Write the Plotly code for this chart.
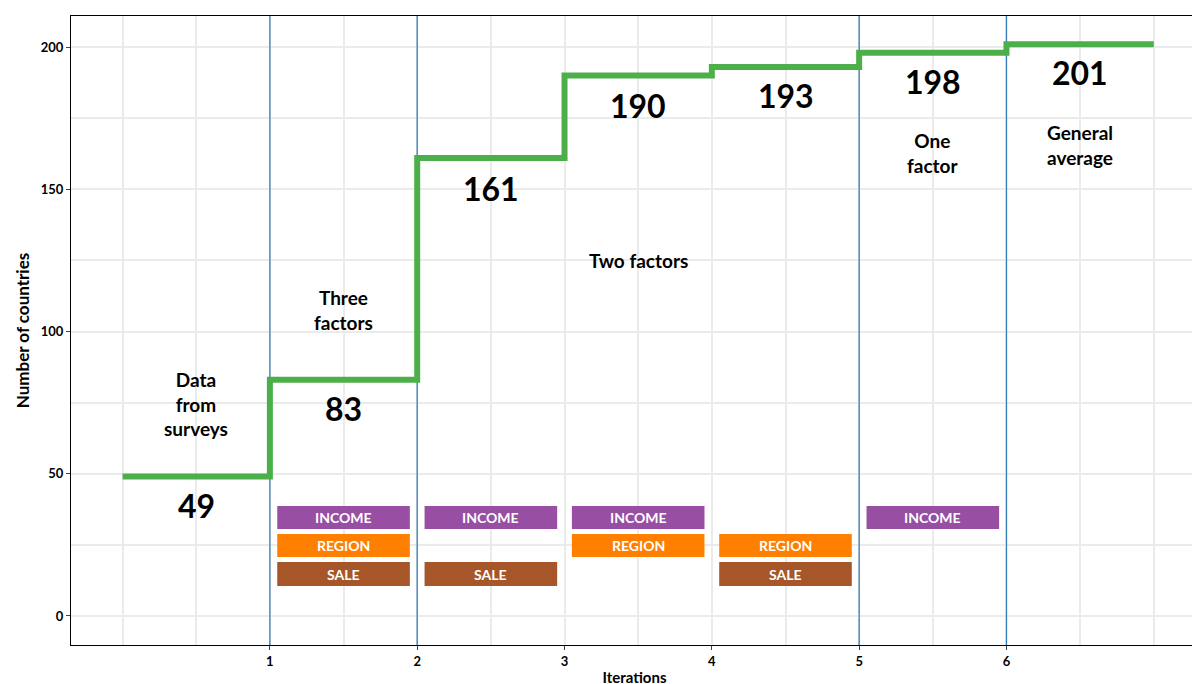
import plotly.graph_objects as go

steps_x = [0, 1, 2, 3, 4, 5, 6, 7]
steps_y = [49, 83, 161, 190, 193, 198, 201, 201]
counts = [49, 83, 161, 190, 193, 198, 201]
count_y = [39, 72.8, 150.4, 179.6, 182.8, 188, 191]
desc = ["Data<br>from<br>surveys", "Three<br>factors", "", "Two factors", "", "One<br>factor", "General<br>average"]
desc_x = [0.5, 1.5, 2.5, 3.5, 4.5, 5.5, 6.5]
desc_y = [74.5, 107.5, None, 124.8, None, 162.7, 165.5]
vlines = [1, 2, 5, 6]
boxes = [(1, "INCOME"), (1, "REGION"), (1, "SALE"),
         (2, "INCOME"), (2, "SALE"),
         (3, "INCOME"), (3, "REGION"),
         (4, "REGION"), (4, "SALE"),
         (5, "INCOME")]
factor_rows = {"INCOME": (30.6, 38.7), "REGION": (20.7, 28.8), "SALE": (10.5, 19)}
factor_colors = {"INCOME": "#984ea3", "REGION": "#ff7f00", "SALE": "#a65628"}

Y0, Y1 = -10.2, 210.9

fig = go.Figure()
for v in vlines:
    fig.add_trace(go.Scatter(x=[v, v], y=[Y0, Y1], mode="lines", line=dict(color="#377eb8", width=1.3), hoverinfo="skip"))
fig.add_trace(go.Scatter(x=steps_x, y=steps_y, mode="lines", line=dict(shape="hv", color="#4daf4a", width=6), hoverinfo="skip"))

shapes = []
annotations = []
for s, f in boxes:
    y0, y1 = factor_rows[f]
    shapes.append(dict(type="rect", x0=s + 0.05, x1=s + 0.95, y0=y0, y1=y1, fillcolor=factor_colors[f], line=dict(width=0)))
    annotations.append(dict(x=s + 0.5, y=(y0 + y1) / 2, text="<b>%s</b>" % f, showarrow=False, font=dict(color="white", size=14, family="Lato")))
for x, c, y in zip(desc_x, counts, count_y):
    annotations.append(dict(x=x, y=y, text="<b>%d</b>" % c, showarrow=False, font=dict(color="black", size=32, family="Lato")))
for x, t, y in zip(desc_x, desc, desc_y):
    if t:
        annotations.append(dict(x=x, y=y, text="<b>%s</b>" % t, showarrow=False, font=dict(color="black", size=19, family="Lato")))

fig.update_layout(
    width=1200, height=684, margin=dict(l=63, r=10, t=8, b=47, autoexpand=False),
    plot_bgcolor="white", paper_bgcolor="white", showlegend=False,
    shapes=shapes, annotations=annotations,
    font=dict(family="Lato", color="black"),
    xaxis=dict(range=[-0.35, 7.3], tickvals=[1, 2, 3, 4, 5, 6], ticktext=["<b>%d</b>" % i for i in range(1, 7)],
               showgrid=True, gridcolor="#ebebeb", gridwidth=1.5, minor=dict(dtick=0.5, tick0=0, showgrid=True, gridcolor="#ebebeb"),
               showline=True, linecolor="black", mirror=True, ticks="outside", ticklen=4, zeroline=False, automargin=False,
               title=dict(text="<b>Iterations</b>", font=dict(size=15), standoff=4), tickfont=dict(size=13)),
    yaxis=dict(range=[Y0, Y1], tickvals=[0, 50, 100, 150, 200], ticktext=["<b>%d</b>" % v for v in [0, 50, 100, 150, 200]],
               showgrid=True, gridcolor="#ebebeb", gridwidth=1.5, minor=dict(dtick=25, tick0=0, showgrid=True, gridcolor="#ebebeb"),
               showline=True, linecolor="black", mirror=True, ticks="outside", ticklen=4, zeroline=False, automargin=False,
               title=dict(text="<b>Number of countries</b>", font=dict(size=17), standoff=6), tickfont=dict(size=13)),
)
fig.write_html("out.html")
